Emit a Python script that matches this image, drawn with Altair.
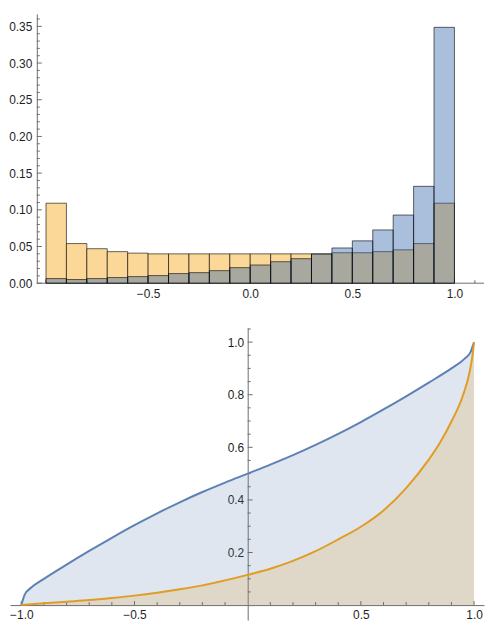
import altair as alt
import pandas as pd

# ---------------- data ----------------
bin_left = [-1.0, -0.9, -0.8, -0.7, -0.6, -0.5, -0.4, -0.3, -0.2, -0.1,
            0.0, 0.1, 0.2, 0.3, 0.4, 0.5, 0.6, 0.7, 0.8, 0.9]
bin_right = [-0.9, -0.8, -0.7, -0.6, -0.5, -0.4, -0.3, -0.2, -0.1, 0.0,
             0.1, 0.2, 0.3, 0.4, 0.5, 0.6, 0.7, 0.8, 0.9, 1.0]
orange_p = [0.109, 0.054, 0.047, 0.043, 0.041, 0.040, 0.040, 0.040, 0.040, 0.040,
            0.040, 0.040, 0.040, 0.040, 0.0415, 0.0415, 0.043, 0.0455, 0.054, 0.109]
blue_p = [0.0063, 0.0050, 0.0063, 0.0077, 0.0090, 0.0104, 0.0131, 0.0144, 0.0171, 0.0212,
          0.0248, 0.0293, 0.0334, 0.0398, 0.048, 0.0577, 0.0726, 0.0929, 0.132, 0.3487]

blue_x = [-1.0, -0.985, -0.96, -0.9, -0.8, -0.7, -0.6, -0.5, -0.4, -0.3, -0.2, -0.1,
          0.0, 0.1, 0.2, 0.3, 0.4, 0.5, 0.6, 0.7, 0.8, 0.9, 0.96, 0.985, 1.0]
blue_y = [0.0, 0.040, 0.064, 0.100, 0.154, 0.206, 0.256, 0.304, 0.349, 0.391, 0.430, 0.466,
          0.500, 0.534, 0.570, 0.609, 0.651, 0.696, 0.744, 0.794, 0.846, 0.900, 0.938, 0.963, 1.0]
orange_x = [-1.0, -0.9, -0.8, -0.7, -0.6, -0.5, -0.4, -0.3, -0.2, -0.1, 0.0, 0.1, 0.2,
            0.3, 0.4, 0.5, 0.6, 0.7, 0.8, 0.85, 0.9, 0.95, 0.98, 0.995, 1.0]
orange_y = [0.0, 0.007, 0.013, 0.019, 0.027, 0.036, 0.047, 0.060, 0.075, 0.094, 0.115, 0.138, 0.168,
            0.205, 0.250, 0.298, 0.360, 0.445, 0.553, 0.618, 0.698, 0.795, 0.885, 0.962, 1.0]

# tick values
top_y_major = [0.0, 0.05, 0.10, 0.15, 0.20, 0.25, 0.30, 0.35]
top_y_minor = [0.01, 0.02, 0.03, 0.04, 0.06, 0.07, 0.08, 0.09, 0.11, 0.12, 0.13, 0.14,
               0.16, 0.17, 0.18, 0.19, 0.21, 0.22, 0.23, 0.24, 0.26, 0.27, 0.28, 0.29,
               0.31, 0.32, 0.33, 0.34, 0.36]
top_x_major = [-0.5, 0.0, 0.5, 1.0]
top_x_minor = [-1.0, -0.9, -0.8, -0.7, -0.6, -0.4, -0.3, -0.2, -0.1,
               0.1, 0.2, 0.3, 0.4, 0.6, 0.7, 0.8, 0.9, 1.1]
bot_y_major = [0.2, 0.4, 0.6, 0.8, 1.0]
bot_y_minor = [0.05, 0.1, 0.15, 0.25, 0.3, 0.35, 0.45, 0.5, 0.55, 0.65, 0.7, 0.75,
               0.85, 0.9, 0.95, 1.05]
bot_x_major = [-1.0, -0.5, 0.5, 1.0]
bot_x_minor = [-0.9, -0.8, -0.7, -0.6, -0.4, -0.3, -0.2, -0.1,
               0.1, 0.2, 0.3, 0.4, 0.6, 0.7, 0.8, 0.9]

# ---------------- styling ----------------
AX = "#6e6e6e"
LAB = "#1e1e1e"
FONT = "Liberation Sans"
FS = 12
BLUE = "#5E81B5"
ORANGE = "#E19C24"

hist = pd.DataFrame({"x0": bin_left, "x1": bin_right, "orange": orange_p, "blue": blue_p})


def vals_df(v):
    return pd.DataFrame({"v": v})


# ---------------- top panel: histogram ----------------
TOP_AXIS_X = -1.045
xs_top = alt.Scale(domain=[-1.1764, 1.1448], nice=False, zero=False)
ys_top = alt.Scale(domain=[0, 0.367], nice=False, zero=False)
xa_top = alt.Axis(values=top_x_major, format=".1f", domain=False, labelPadding=5)
ya_top = alt.Axis(values=top_y_major, format=".2f", domain=True, offset=-27, labelPadding=5)

orange_bars = alt.Chart(hist).mark_rect(
    fill="#FBD897", stroke="black", strokeOpacity=0.6, strokeWidth=1
).encode(
    x=alt.X("x0:Q", scale=xs_top, axis=xa_top, title=None), x2="x1:Q",
    y=alt.Y("orange:Q", scale=ys_top, axis=ya_top, title=None), y2=alt.Y2Datum(0),
)
blue_bars = alt.Chart(hist).mark_rect(
    fill="#3567AC", fillOpacity=0.42, stroke="black", strokeOpacity=0.6, strokeWidth=1
).encode(
    x=alt.X("x0:Q", scale=xs_top, axis=xa_top, title=None), x2="x1:Q",
    y=alt.Y("blue:Q", scale=ys_top, axis=ya_top, title=None), y2=alt.Y2Datum(0),
)

top_xaxis_line = alt.Chart(vals_df([TOP_AXIS_X])).mark_rule(color=AX, strokeWidth=1).encode(
    x=alt.X("v:Q", scale=xs_top, axis=xa_top, title=None),
    x2=alt.X2Datum(1.145),
    y=alt.YDatum(0, scale=ys_top, axis=ya_top, title=None),
)


def yticks_top(vals, length):
    return alt.Chart(vals_df(vals)).mark_rule(color=AX, strokeWidth=1, x2Offset=length).encode(
        y=alt.Y("v:Q", scale=ys_top, axis=ya_top, title=None),
        x=alt.XDatum(TOP_AXIS_X, scale=xs_top, axis=xa_top, title=None),
        x2=alt.X2Datum(TOP_AXIS_X),
    )


def xticks_top(vals, length):
    return alt.Chart(vals_df(vals)).mark_rule(color=AX, strokeWidth=1, y2Offset=-length).encode(
        x=alt.X("v:Q", scale=xs_top, axis=xa_top, title=None),
        y=alt.YDatum(0, scale=ys_top, axis=ya_top, title=None),
        y2=alt.Y2Datum(0),
    )


top = alt.layer(
    top_xaxis_line,
    yticks_top(top_y_major, 5), yticks_top(top_y_minor, 3),
    xticks_top(top_x_major, 5), xticks_top(top_x_minor, 3),
    orange_bars, blue_bars,
).properties(width=477, height=271)

# ---------------- bottom panel: curves ----------------
xs_bot = alt.Scale(domain=[-1.05, 1.044], nice=False, zero=False)
ys_bot = alt.Scale(domain=[-0.057, 1.054], nice=False, zero=False)
xa_bot = alt.Axis(values=bot_x_major, format=".1f", domain=True, offset=-15.1, labelPadding=5)
ya_bot = alt.Axis(values=bot_y_major, format=".1f", domain=True, offset=-239.2, labelPadding=4)

blue_df = pd.DataFrame({"x": blue_x, "y": blue_y})
orange_df = pd.DataFrame({"x": orange_x, "y": orange_y})


def yticks_bot(vals, length):
    return alt.Chart(vals_df(vals)).mark_rule(color=AX, strokeWidth=1, x2Offset=length).encode(
        y=alt.Y("v:Q", scale=ys_bot, axis=ya_bot, title=None),
        x=alt.XDatum(0, scale=xs_bot, axis=xa_bot, title=None),
        x2=alt.X2Datum(0),
    )


def xticks_bot(vals, length):
    return alt.Chart(vals_df(vals)).mark_rule(color=AX, strokeWidth=1, y2Offset=-length).encode(
        x=alt.X("v:Q", scale=xs_bot, axis=xa_bot, title=None),
        y=alt.YDatum(0, scale=ys_bot, axis=ya_bot, title=None),
        y2=alt.Y2Datum(0),
    )


def area(df, color):
    return alt.Chart(df).mark_area(color=color, opacity=0.2, interpolate="monotone").encode(
        x=alt.X("x:Q", scale=xs_bot, axis=xa_bot, title=None),
        y=alt.Y("y:Q", scale=ys_bot, axis=ya_bot, title=None),
        y2=alt.Y2Datum(0),
    )


def line(df, color):
    return alt.Chart(df).mark_line(color=color, strokeWidth=2, interpolate="monotone").encode(
        x=alt.X("x:Q", scale=xs_bot, axis=xa_bot, title=None),
        y=alt.Y("y:Q", scale=ys_bot, axis=ya_bot, title=None),
    )


bottom = alt.layer(
    area(blue_df, BLUE), area(orange_df, ORANGE),
    yticks_bot(bot_y_major, 5), yticks_bot(bot_y_minor, 3),
    xticks_bot(bot_x_major, 4), xticks_bot(bot_x_minor, 3),
    line(blue_df, BLUE), line(orange_df, ORANGE),
).properties(width=477, height=294)

chart = alt.vconcat(top, bottom, spacing=29).properties(
    padding={"left": 0, "top": 4, "right": 1, "bottom": 0},
    background="white",
).configure_view(
    stroke=None
).configure_axis(
    ticks=False, grid=False, domainColor=AX, domainWidth=1,
    labelColor=LAB, labelFont=FONT, labelFontSize=FS, title=None,
)

chart.save("out.html", embed_options={"renderer": "svg", "actions": False})
